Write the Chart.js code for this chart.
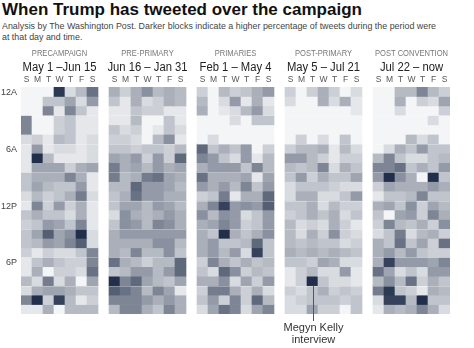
<!DOCTYPE html>
<html>
<head>
<meta charset="utf-8">
<script src="https://cdn.jsdelivr.net/npm/chart.js@4.4.1/dist/chart.umd.min.js"></script>
<style>
  html, body { margin: 0; padding: 0; background: #fff; }
  #wrap { position: relative; width: 474px; height: 348px; overflow: hidden; font-family: "Liberation Sans", Arial, sans-serif; }
  #title { position: absolute; left: 2px; top: 1px; font-size: 17px; line-height: 17px; font-weight: bold; color: #111; white-space: nowrap; }
  #subtitle { position: absolute; left: 2px; top: 20px; font-size: 9.5px; line-height: 11px; color: #444; white-space: nowrap; transform: scaleX(0.934); transform-origin: left top; }
  canvas { position: absolute; left: 0; top: 0; }
</style>
</head>
<body>
<div id="wrap">
  <div id="title">When Trump has tweeted over the campaign</div>
  <div id="subtitle">Analysis by The Washington Post. Darker blocks indicate a higher percentage of tweets during the period were<br>at that day and time.</div>
  <canvas id="heat" width="474" height="348"></canvas>
</div>
<script>
const days = ['S', 'M', 'T', 'W', 'T', 'F', 'S'];
const hourTicks = [0, 6, 12, 18];
const hourNames = ['12A', '6A', '12P', '6P'];
const periods = ['PRECAMPAIGN', 'PRE-PRIMARY', 'PRIMARIES', 'POST-PRIMARY', 'POST CONVENTION'];
const dateRanges = ['May 1 \u2013Jun 15', 'Jun 16 \u2013 Jan 31', 'Feb 1 \u2013 May 4', 'May 5 \u2013 Jul 21', 'Jul 22 \u2013 now'];

// relative share of tweets, 0 (none) .. 10 (most), rows = hour 0..23, cols = S..S
const precampaign = [
  [0, 0, 0, 9, 1, 2.5, 6],
  [0, 0, 2, 2, 3.5, 1, 4],
  [0, 0, 5, 0.5, 5, 2, 0.5],
  [5, 0, 0, 1.5, 2, 0.5, 0.5],
  [5, 0, 0, 1.5, 2, 0.5, 0.5],
  [1, 1.5, 0.5, 2.5, 2, 0.5, 1],
  [0.5, 4, 0.5, 1, 1, 0.5, 1],
  [0.5, 9.5, 2.5, 0.5, 0.5, 0.5, 1],
  [0.5, 3.5, 3.5, 3.5, 1.5, 3, 3.5],
  [2, 3, 3, 3, 5, 3, 0.5],
  [2, 3.5, 2.5, 2, 2, 4, 0.5],
  [1, 2.5, 1.5, 2, 3, 5.5, 1],
  [0.5, 5, 1.5, 4, 1.5, 3, 0.5],
  [2, 3, 2, 2, 1, 3, 0.5],
  [1.5, 2, 4, 3.5, 2, 5, 0.5],
  [2, 3.5, 7, 3.5, 4.5, 9.5, 1],
  [2, 2.5, 4, 3.5, 5, 7, 1],
  [1.5, 0.5, 1.5, 1, 1, 2, 5],
  [0.5, 2, 3, 2, 1.5, 1.5, 5],
  [0.5, 3, 0, 1.5, 1.5, 1, 6],
  [2.5, 1, 5.5, 1, 3, 0, 3.5],
  [1, 3, 3.5, 3.5, 3, 2, 2],
  [5, 9.5, 1.5, 8.5, 2.5, 0.5, 1.5],
  [0.5, 0.5, 3, 0, 2.5, 2.5, 2.5]
];
const prePrimary = [
  [3, 1.5, 3, 4.5, 2.5, 3, 2.5],
  [2, 0.5, 3, 1, 1.5, 3, 2.5],
  [0.5, 0.5, 2, 1.5, 1.5, 0.5, 0.5],
  [0.5, 0.5, 2.5, 0, 0, 2, 0.5],
  [2, 1, 1.5, 0, 0.5, 2, 1],
  [1.5, 1.5, 1, 0, 2.5, 4.5, 0.5],
  [2, 2, 1.5, 2, 2, 1.5, 2.5],
  [3.5, 3, 4, 1.5, 4, 1.5, 6.5],
  [5.5, 3, 3.5, 2.5, 4, 3, 3.5],
  [5.5, 2.5, 3, 5.5, 6, 3.5, 3],
  [2.5, 2.5, 6.5, 4, 4, 3.5, 2.5],
  [2, 3, 6, 4, 4, 3, 3],
  [2, 3.5, 3.5, 2.5, 4, 3.5, 2.5],
  [1, 4.5, 3, 2.5, 3, 4, 3],
  [2, 4.5, 4, 2.5, 5, 4.5, 3],
  [3, 4, 4, 4, 4, 4, 4],
  [3, 3, 3, 3, 4.5, 4.5, 2.5],
  [3, 2.5, 5, 2.5, 2.5, 4.5, 2],
  [6, 3, 2.5, 1.5, 2.5, 2.5, 6.5],
  [2, 2.5, 4, 4, 2.5, 4, 6.5],
  [9.5, 5, 6.5, 3.5, 2.5, 2, 3.5],
  [7, 6, 5, 2.5, 5, 3.5, 0.5],
  [5, 5, 5, 4, 3, 4, 3],
  [2.5, 5, 5, 3, 2, 5, 3]
];
const primaries = [
  [1.5, 0, 2.5, 1.5, 2, 3, 4],
  [2.5, 0, 1, 4, 0.5, 3, 0.5],
  [3, 0, 0.5, 1, 2.5, 4, 1],
  [0, 0, 0, 1, 0, 2, 2],
  [0, 0, 0, 0, 0, 0, 0],
  [0, 1, 0, 0, 0, 0, 0],
  [6.5, 2, 3, 2, 4, 0, 1.5],
  [5, 4, 2, 1, 4, 0.5, 2.5],
  [3, 4, 4, 4, 2, 5, 2.5],
  [6, 3, 3, 3, 3.5, 0.5, 3.5],
  [4, 3, 4, 2.5, 5, 2, 4],
  [1.5, 2, 5.5, 0.5, 3, 3, 6.5],
  [3, 5, 8.5, 4, 4.5, 4, 7],
  [4.5, 2.5, 4.5, 4, 1, 2, 4],
  [3, 3.5, 5, 4, 1.5, 2, 4],
  [3, 2, 9.5, 3, 2, 3, 4.5],
  [3, 4, 2, 2, 2.5, 6.5, 2],
  [3, 4, 2.5, 4, 1, 8.5, 2],
  [1.5, 5, 3, 2, 3, 2, 2.5],
  [2, 1, 6.5, 4.5, 1.5, 2.5, 2],
  [3, 3, 4.5, 1, 3.5, 1.5, 4],
  [1.5, 5.5, 5.5, 3, 1.5, 3, 1],
  [2, 4, 1.5, 5, 1.5, 6.5, 2.5],
  [1, 3.5, 6, 5, 1, 3.5, 5]
];
const postPrimary = [
  [1.5, 0, 1.5, 3, 1.5, 0, 1],
  [1, 0, 0, 3, 1, 3, 0.5],
  [0, 0, 0, 0, 0, 0, 0.5],
  [0, 0, 0, 0, 0, 0, 0],
  [0, 0, 0, 0, 0, 0, 0],
  [0, 1.5, 0, 1, 0, 2, 0],
  [1.5, 2.5, 2.5, 3, 0.5, 2.5, 1],
  [4, 4, 2.5, 1.5, 0.5, 1.5, 1.5],
  [2.5, 2, 2.5, 5, 1, 3, 2],
  [2, 4, 1.5, 3, 2, 2, 3.5],
  [1, 2, 2, 2, 1.5, 1, 1],
  [1, 3, 3, 1, 1, 2, 4],
  [2, 2, 3, 1, 2.5, 1.5, 1.5],
  [1.5, 2, 3, 2, 3, 1, 2],
  [2.5, 1, 1.5, 1, 3, 1.5, 0.5],
  [2.5, 1, 3, 1.5, 4.5, 1.5, 1],
  [2.5, 2, 2.5, 2, 2, 1, 1.5],
  [3, 2.5, 3, 2.5, 3, 2.5, 2],
  [2, 2, 1.5, 3.5, 3, 1, 1],
  [0.5, 1.5, 2.5, 1, 1, 4, 0.5],
  [0.5, 1.5, 9.5, 2, 1, 1, 0.5],
  [1.5, 1, 2, 3, 1.5, 2, 1.5],
  [1, 1.5, 2, 2, 2, 1.5, 2],
  [1, 1, 3.5, 1.5, 1.5, 0, 2]
];
const postConvention = [
  [0, 0, 2.5, 2.5, 5, 2.5, 1.5],
  [0, 0, 3, 0, 1.5, 1, 3.5],
  [0, 0, 1, 0, 0, 0, 1.5],
  [0, 0, 0, 0, 0, 1, 0],
  [0, 0, 0, 0, 0, 0, 0],
  [0, 0, 0, 2.5, 1, 2, 0],
  [0, 1, 3, 2, 4, 2, 2],
  [2.5, 5, 2, 1, 1, 2, 2.5],
  [5, 5, 6, 2, 3, 2, 4],
  [4, 9.5, 4.5, 3, 0, 9.5, 2],
  [1.5, 3.5, 3, 3, 3, 4, 3],
  [0.5, 2, 2, 2.5, 5, 2, 2],
  [3, 3.5, 2, 4.5, 1.5, 3.5, 2.5],
  [2, 0, 3.5, 4, 1.5, 5, 3],
  [1.5, 5, 2.5, 2, 3, 1.5, 4.5],
  [1, 2, 5.5, 1, 2.5, 3, 1.5],
  [3, 2, 6, 2, 3.5, 1.5, 6],
  [3, 4, 2.5, 4, 2, 1.5, 1.5],
  [3, 8.5, 4, 4, 4, 3.5, 5],
  [6, 3.5, 1, 2, 1, 4, 4],
  [2.5, 4.5, 2.5, 6, 1.5, 3, 2],
  [5.5, 9, 2, 1.5, 0.5, 3, 2.5],
  [1, 8.5, 8.5, 2.5, 9.5, 2, 2],
  [0.5, 3, 2.5, 3, 5, 3, 1]
];
const panels = [precampaign, prePrimary, primaries, postPrimary, postConvention];

// one empty category between panels
const perPanel = days.length + 1;
const xLabels = [];
panels.forEach((p, i) => {
  days.forEach(d => xLabels.push(d));
  if (i < panels.length - 1) xLabels.push('');
});

const light = [244, 245, 247];
const dark = [24, 38, 66];
function shade(v) {
  const t = Math.pow(Math.min(v, 10) / 10, 0.9);
  const c = light.map((l, i) => Math.round(l + (dark[i] - l) * t));
  return `rgb(${c[0]},${c[1]},${c[2]})`;
}

const datasets = [];
for (let h = 0; h < 24; h++) {
  const data = xLabels.map(() => null);
  const colors = xLabels.map(() => 'rgba(0,0,0,0)');
  panels.forEach((panel, p) => {
    panel[h].forEach((v, d) => {
      data[p * perPanel + d] = 1;
      colors[p * perPanel + d] = shade(v);
    });
  });
  datasets.push({
    label: 'h' + h,
    data: data,
    backgroundColor: colors,
    borderWidth: 0,
    barPercentage: 1,
    categoryPercentage: 1
  });
}

const headerPlugin = {
  id: 'header',
  afterDraw(chart) {
    const ctx = chart.ctx;
    const x = chart.scales.x;
    ctx.save();
    ctx.textAlign = 'center';
    panels.forEach((p, i) => {
      const cx = (x.getPixelForValue(i * perPanel) + x.getPixelForValue(i * perPanel + 6)) / 2;
      ctx.save();
      ctx.translate(cx, 54);
      ctx.scale(0.84, 1);
      ctx.textBaseline = 'middle';
      ctx.fillStyle = '#777';
      ctx.font = '9px "Liberation Sans", Arial, sans-serif';
      ctx.fillText(periods[i], 0, 0);
      ctx.restore();
      ctx.save();
      ctx.translate(cx, 70.5);
      ctx.scale(0.9, 1);
      ctx.textBaseline = 'alphabetic';
      ctx.fillStyle = '#222';
      ctx.font = '12.5px "Liberation Sans", Arial, sans-serif';
      ctx.fillText(dateRanges[i], 0, 0);
      ctx.restore();
    });
    ctx.restore();
  }
};

// faint separators every three hours, then the annotation
const notePlugin = {
  id: 'note',
  afterDatasetsDraw(chart) {
    const ctx = chart.ctx;
    const x = chart.scales.x;
    const y = chart.scales.y;
    ctx.save();
    ctx.strokeStyle = 'rgba(255,255,255,0.3)';
    ctx.lineWidth = 1;
    for (let h = 3; h < 24; h += 3) {
      const py = Math.round(y.getPixelForValue(h)) + 0.5;
      panels.forEach((p, i) => {
        ctx.beginPath();
        ctx.moveTo(x.getPixelForValue(i * perPanel) - 5.5, py);
        ctx.lineTo(x.getPixelForValue(i * perPanel + 6) + 5.5, py);
        ctx.stroke();
      });
    }
    const px = Math.round(x.getPixelForValue(3 * perPanel + 2)) + 0.5;
    ctx.strokeStyle = '#555';
    ctx.beginPath();
    ctx.moveTo(px, y.getPixelForValue(21));
    ctx.lineTo(px, chart.chartArea.bottom + 7);
    ctx.stroke();
    ctx.fillStyle = '#333';
    ctx.textAlign = 'center';
    ctx.font = '11px "Liberation Sans", Arial, sans-serif';
    ctx.fillText('Megyn Kelly', px, chart.chartArea.bottom + 17);
    ctx.fillText('interview', px, chart.chartArea.bottom + 29);
    ctx.restore();
  }
};

new Chart(document.getElementById('heat'), {
  type: 'bar',
  data: { labels: xLabels, datasets: datasets },
  options: {
    responsive: false,
    animation: false,
    layout: { padding: { top: 0, left: 0, right: 24, bottom: 34 } },
    plugins: { legend: { display: false }, tooltip: { enabled: false } },
    scales: {
      x: {
        position: 'top',
        stacked: true,
        grid: { display: false, drawTicks: false, tickLength: 0 },
        border: { display: false },
        ticks: { autoSkip: false, maxRotation: 0, padding: 2, color: '#555', font: { size: 8.5, family: '"Liberation Sans", Arial, sans-serif' } },
        afterFit: s => { s.height = 87; }
      },
      y: {
        stacked: true,
        reverse: true,
        min: 0,
        max: 24,
        grid: { display: false, drawTicks: false, tickLength: 0 },
        border: { display: false },
        afterBuildTicks: s => { s.ticks = hourTicks.map(h => ({ value: h + 0.6 })); },
        ticks: {
          padding: 4,
          color: '#444',
          font: { size: 9, family: '"Liberation Sans", Arial, sans-serif' },
          callback: (v, i) => hourNames[i]
        },
        afterFit: s => { s.width = 21; }
      }
    }
  },
  plugins: [headerPlugin, notePlugin]
});
</script>
</body>
</html>
